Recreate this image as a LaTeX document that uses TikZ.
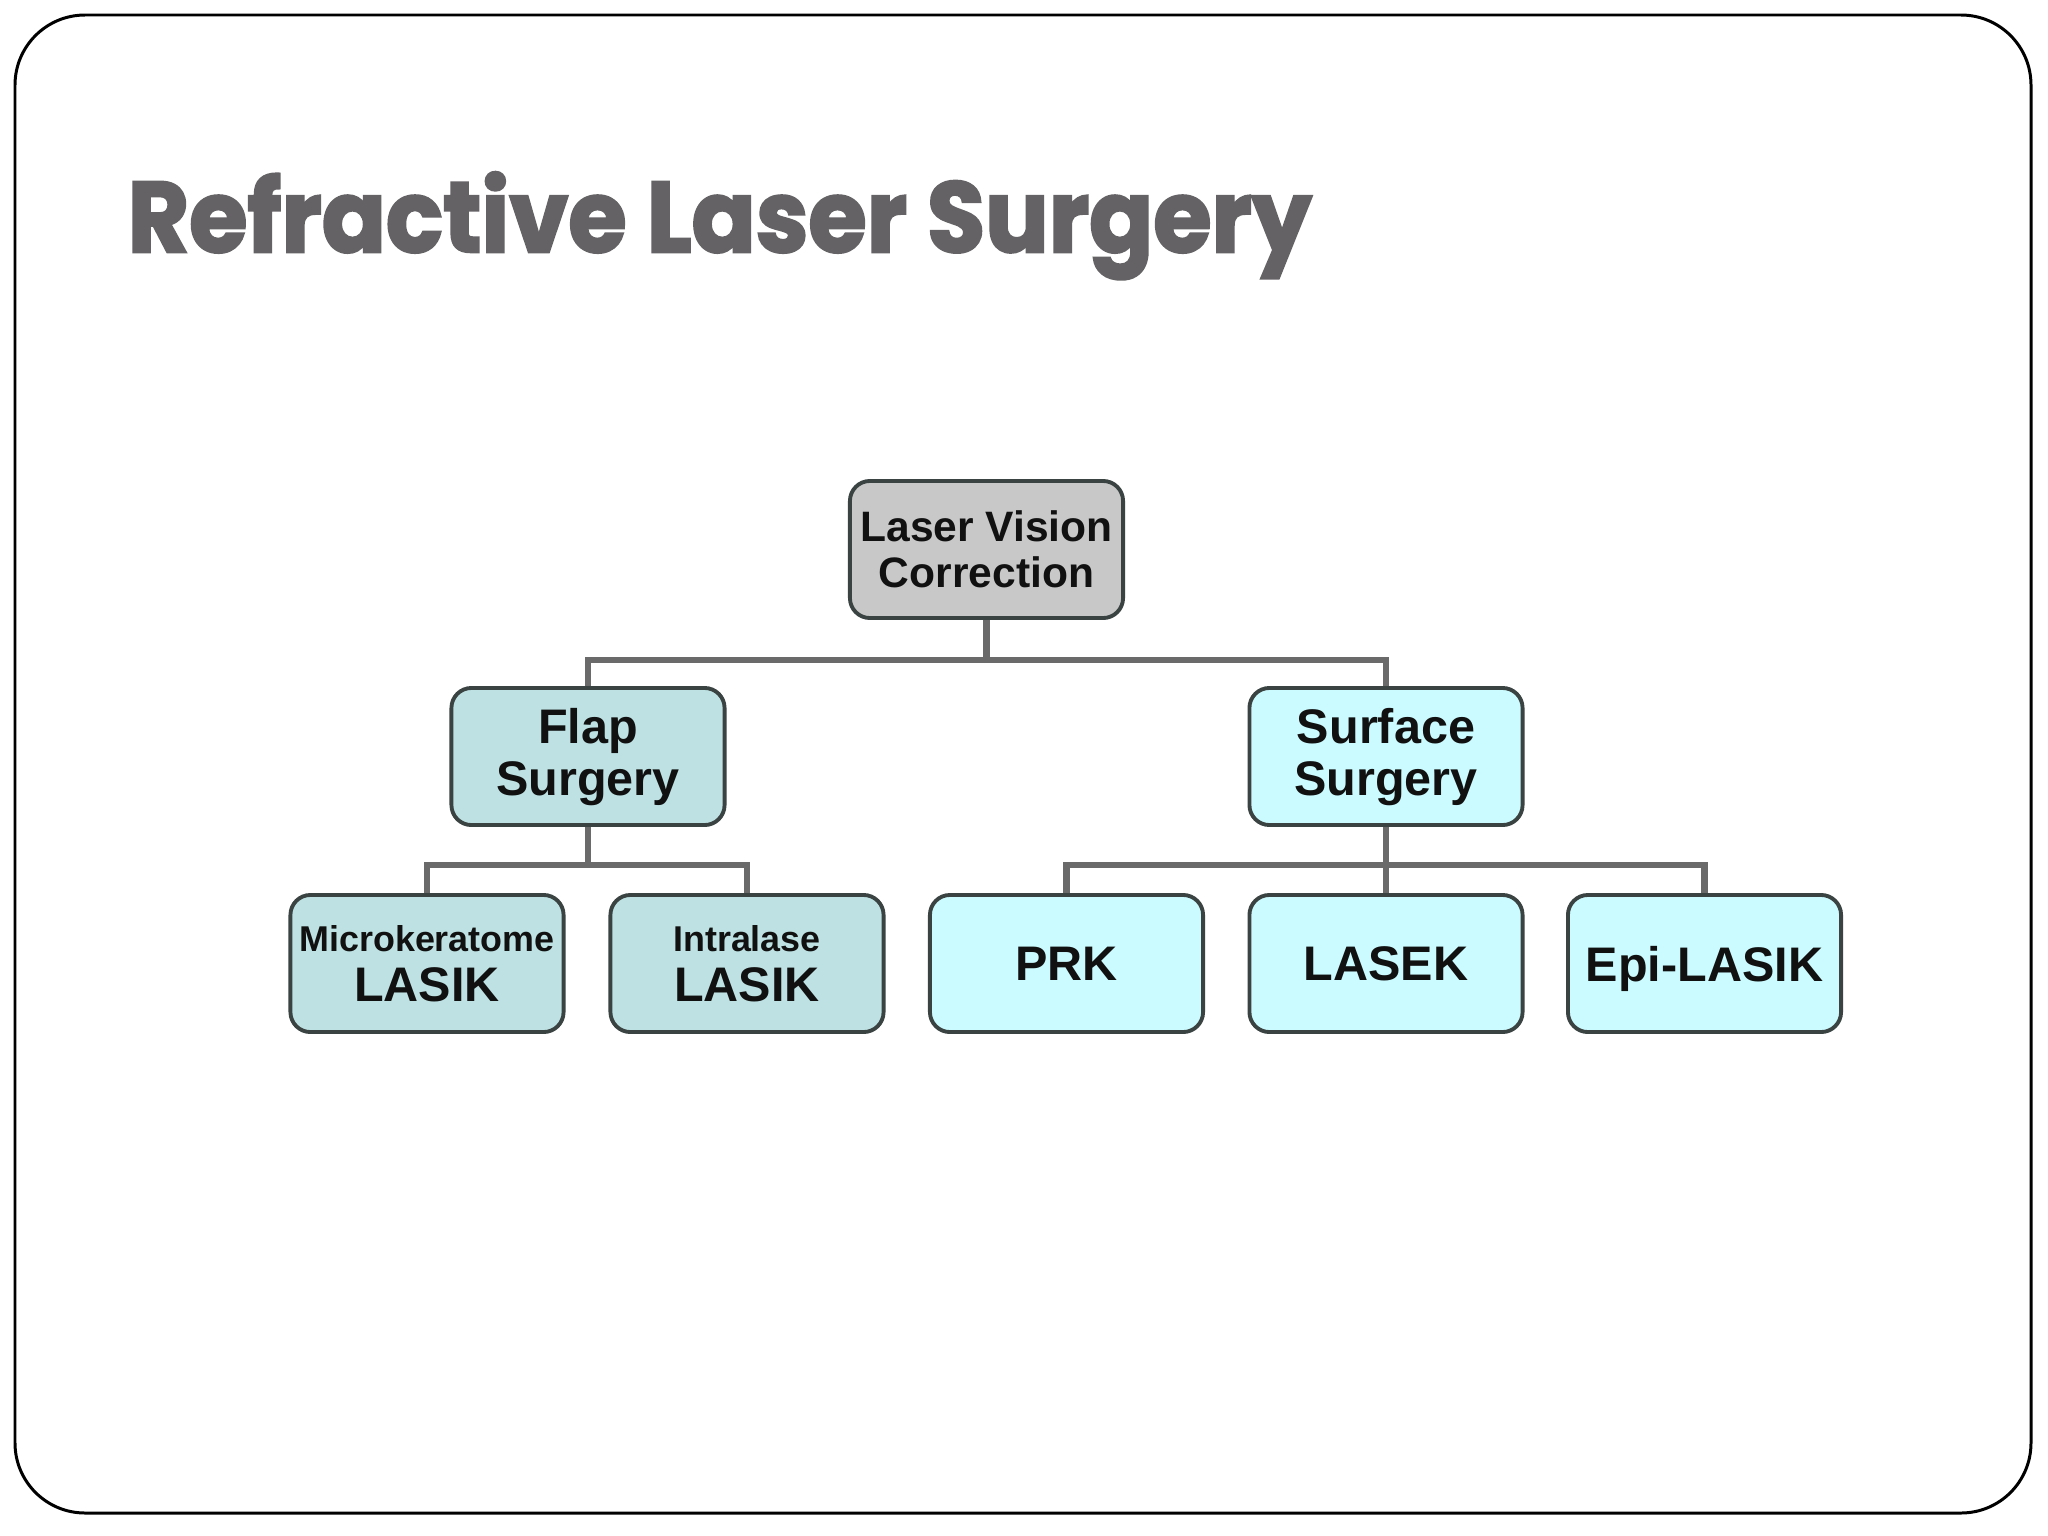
\documentclass[tikz,border=0pt]{standalone}
\usepackage{fontspec}
\setmainfont{Liberation Sans}
\newfontfamily\titlefont{Poppins}[BoldFeatures={FakeBold=2.5}]
\definecolor{titlegray}{HTML}{646264}
\definecolor{rootfill}{HTML}{C8C8C8}
\definecolor{flapfill}{HTML}{BEE2E3}
\definecolor{surffill}{HTML}{CBFBFF}
\definecolor{boxline}{HTML}{3A4242}
\definecolor{linkgray}{HTML}{6A6A6A}
\definecolor{txt}{HTML}{111111}
\tikzset{
  treebox/.style={draw=boxline, line width=1.1pt, rounded corners=0.2cm,
    minimum width=2.73cm, minimum height=1.37cm, inner sep=0pt,
    align=center, text=txt, font=\bfseries},
  rootbox/.style={treebox, fill=rootfill, font=\bfseries\fontsize{12.1}{13.1}\selectfont},
  flapbox/.style={treebox, fill=flapfill},
  surfbox/.style={treebox, fill=surffill},
  bigtext/.style={font=\bfseries\fontsize{13.8}{14.8}\selectfont},
  link/.style={draw=linkgray, line width=1.8pt}
}
\begin{document}
\begin{tikzpicture}[x=0.01cm,y=-0.01cm]
\useasboundingbox (0,0) rectangle (2048,1536);
\fill[white] (0,0) rectangle (2048,1536);
\draw[black, line width=0.85pt, rounded corners=0.7cm] (15,15) rectangle (2031,1513);
\node[anchor=base west, inner sep=0pt, text=titlegray] (title) at (127,252)
  {\resizebox{11.83cm}{0.8cm}{\titlefont\bfseries Refractive Laser Surgery}};

\coordinate (b1) at (986.5,660);
\coordinate (b2) at (588,865);
\coordinate (b3) at (1386,865);

\node[rootbox] (root) at (986.5,549.5) {Laser Vision\\Correction};
\node[flapbox, bigtext] (flap) at (588,756.5) {\strut Flap\\Surgery};
\node[surfbox, bigtext] (surf) at (1386,756.5) {\strut Surface\\Surgery};
\node[flapbox, font=\bfseries\fontsize{13.8}{14.2}\selectfont] (micro) at (427,963.5)
  {{\fontsize{10.2}{12}\selectfont Microkeratome}\\LASIK};
\node[flapbox, font=\bfseries\fontsize{13.8}{14.2}\selectfont] (intra) at (747,963.5)
  {{\fontsize{10.2}{12}\selectfont Intralase}\\LASIK};
\node[surfbox, bigtext] (prk) at (1066.5,963.5) {PRK};
\node[surfbox, bigtext] (lasek) at (1386,963.5) {LASEK};
\node[surfbox, bigtext, text depth=0pt] (epi) at (1704.5,963.5) {Epi-LASIK};

\draw[link] (root.south) -- (b1);
\draw[link] (flap.north) |- (b1) -| (surf.north);
\draw[link] (flap.south) -- (b2);
\draw[link] (micro.north) |- (b2) -| (intra.north);
\draw[link] (surf.south) -- (lasek.north);
\draw[link] (prk.north) |- (b3) -| (epi.north);
\end{tikzpicture}
\end{document}
